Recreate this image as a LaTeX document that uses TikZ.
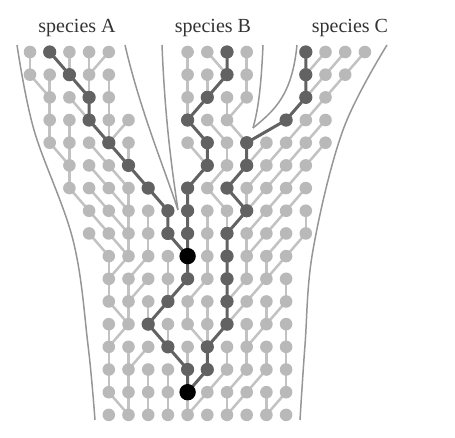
\documentclass[tikz,border=0pt]{standalone}
\usepackage{fontspec}
\setmainfont{Liberation Serif}
\usetikzlibrary{calc}

% rows of the population grid: row/columns
\newcommand{\gridrows}{
  0/{0,1,2,3,4,8,9,10,11,14,15,16,17},
  1/{0,1,2,3,4,8,9,10,11,14,15,16},
  2/{1,2,3,4,8,9,10,11,14,15},
  3/{1,2,3,4,5,8,9,10,13,14,15},
  4/{1,2,3,4,5,8,9,10,11,12,13,14,15},
  5/{2,3,4,5,9,10,11,12,13,14},
  6/{2,3,4,5,6,8,9,10,11,12,13,14},
  7/{3,4,5,6,7,8,9,10,11,12,13,14},
  8/{3,4,5,6,7,8,9,10,11,12,13,14},
  9/{4,5,6,7,8,9,10,11,12,13},
  10/{4,5,6,7,8,9,10,11,12,13},
  11/{4,5,6,7,8,9,10,11,12,13},
  12/{4,5,6,7,8,9,10,11,12,13},
  13/{4,5,6,7,8,9,10,11,12,13},
  14/{4,5,6,7,8,9,10,11,12,13},
  15/{4,5,6,7,8,9,10,11,12,13},
  16/{4,5,6,7,8,9,10,11,12,13}}

\begin{document}
\begin{tikzpicture}[x=0.5pt, y=-0.5pt,
    gline/.style={linegray, line width=1.25pt},
    dline/.style={genegray, line width=1.5pt},
    wall/.style={wallgray, line width=0.75pt},
    lab/.style={anchor=base, font=\fontsize{10}{12}\selectfont, text=black!80}]

  % Define colors
  \definecolor{dotgray}{RGB}{185,185,185}
  \definecolor{linegray}{RGB}{194,194,194}
  \definecolor{genegray}{RGB}{98,98,98}
  \definecolor{wallgray}{RGB}{150,150,150}

  \useasboundingbox (0,0) rectangle (455,438);

  % Species labels
  \node[lab] (labA) at (77,33) {species A};
  \node[lab] (labB) at (213,33) {species B};
  \node[lab] (labC) at (350,33) {species C};

  % Grid positions (one per individual)
  \foreach \r/\cols in \gridrows {
    \foreach \k in \cols {
      \coordinate (p\r-\k) at ({30+19.7*\k},{52+22.68*\r});
    }
  }

  % Species tree walls
  \draw[wall] plot[smooth, tension=0.6] coordinates {(17,45) (34,130) (73,240) (88,345) (95,420)};
  \draw[wall] plot[smooth, tension=0.6] coordinates {(387,45) (343,130) (313,250) (305,345) (300,420)};
  \draw[wall] (125,45) .. controls (140,110) and (165,170) .. (178,210);
  \draw[wall] (162,45) .. controls (165,120) and (172,170) .. (178,210);
  \draw[wall] (263,45) .. controls (261,90) and (258,110) .. (253,128);
  \draw[wall] (297,45) .. controls (292,95) and (275,110) .. (253,128);

  % Parent links (child/parent in the row below)
  \foreach \r/\links in {
      0/{0/0,2/2,3/3,4/3,8/8,9/10,11/11,15/14,16/15,17/16},
      1/{0/1,1/1,3/3,4/4,8/8,9/9,11/11,15/14,16/15},
      2/{1/1,2/3,4/4,8/8,10/10,11/10,15/14},
      3/{1/1,2/2,4/4,5/4,9/10,10/11,14/13,15/14},
      4/{1/2,2/2,3/4,5/5,8/9,10/10,12/11,13/12,14/13,15/14},
      5/{2/2,3/4,4/5,10/9,12/11,13/12,14/13},
      6/{2/3,3/4,4/5,5/5,9/10,11/11,12/11,13/12,14/13},
      7/{3/4,4/5,5/5,6/6,9/9,10/10,12/11,13/12,14/14},
      8/{3/4,4/5,5/5,6/6,9/9,11/11,12/11,13/12,14/13},
      9/{4/4,5/4,6/5,7/7,9/9,11/11,12/12,13/12},
      10/{4/4,5/5,6/5,7/7,9/8,11/10,12/11,13/13},
      11/{4/5,5/5,6/6,8/8,9/9,11/10,12/12,13/12},
      12/{4/4,5/4,7/7,8/9,9/9,11/11,12/11,13/13},
      13/{4/4,5/5,6/5,8/8,10/10,11/11,12/12,13/13},
      14/{4/4,5/5,6/6,7/7,10/9,11/10,12/11,13/13},
      15/{4/5,5/5,6/6,7/7,8/8,9/8,10/10,11/10,12/12,13/12}} {
    \pgfmathtruncatemacro{\rr}{\r+1}
    \foreach \k/\p in \links {
      \draw[gline] (p\r-\k) -- (p\rr-\p);
    }
  }

  % Gene lineages
  \draw[dline] (p0-1) -- (p1-2) -- (p2-3) -- (p3-3) -- (p4-4) -- (p5-5)
    -- (p6-6) -- (p7-7) -- (p8-7) -- (p9-8);
  \draw[dline] (p0-10) -- (p1-10) -- (p2-9) -- (p3-8) -- (p4-9) -- (p5-9)
    -- (p6-8) -- (p7-8) -- (p8-8) -- (p9-8);
  \draw[dline] (p0-14) -- (p1-14) -- (p2-14) -- (p3-13) -- (p4-11) -- (p5-11)
    -- (p6-10) -- (p7-11) -- (p8-10) -- (p9-10) -- (p10-10) -- (p11-10)
    -- (p12-10) -- (p13-9) -- (p14-9) -- (p15-8);
  \draw[dline] (p9-8) -- (p10-8) -- (p11-7) -- (p12-6) -- (p13-7) -- (p14-8) -- (p15-8);

  % Individuals
  \foreach \r/\cols in \gridrows {
    \foreach \k in \cols {
      \fill[dotgray] (p\r-\k) circle (3.15pt);
    }
  }

  % Ancestors of the sample
  \foreach \r/\k in {0/1,1/2,2/3,3/3,4/4,5/5,6/6,7/7,8/7,
      0/10,1/10,2/9,3/8,4/9,5/9,6/8,7/8,8/8,
      0/14,1/14,2/14,3/13,4/11,5/11,6/10,7/11,8/10,9/10,10/10,11/10,12/10,13/9,14/9,
      10/8,11/7,12/6,13/7,14/8} {
    \fill[genegray] (p\r-\k) circle (3.3pt);
  }

  % Coalescent events
  \foreach \r in {9,15} {
    \fill[black] (p\r-8) circle (4.1pt);
  }

\end{tikzpicture}
\end{document}
